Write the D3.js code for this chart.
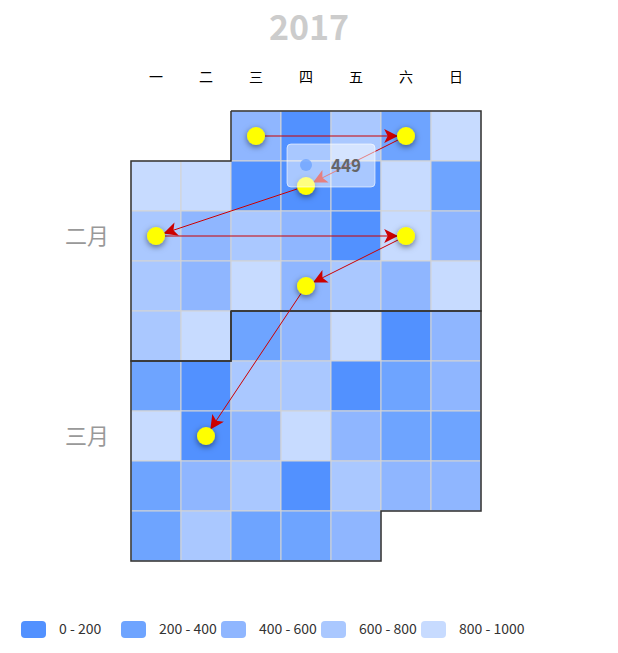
<!DOCTYPE html>
<html><head><meta charset="utf-8">
<script src="https://cdn.jsdelivr.net/npm/d3@7"></script>
<style>body{margin:0;background:#fff;font-family:"Microsoft YaHei","Noto Sans CJK SC",sans-serif}</style>
</head><body><svg id="c" width="618" height="653"></svg>
<script>
const title = "2017";
const dayNames = ["一","二","三","四","五","六","日"];
const monthNames = ["二月","三月"];
const startDate = "2017-02-01", endDate = "2017-03-31";
// one value per day, Feb 1 .. Mar 31
const values = [
 450,120,690,310,880,
 900,870,150,180,90,860,330,
 640,470,700,520,60,910,430,
 650,480,930,530,710,440,850,
 680,890,270,500,920,110,460,
 300,140,720,690,80,280,510,
 940,70,420,870,490,320,260,
 250,460,660,130,700,410,450,
 290,680,240,330,480
];
const pieceLabels = ["0 - 200","200 - 400","400 - 600","600 - 800","800 - 1000"];
const pieceColors = ["#5291ff","#6ea4ff","#8fb6ff","#aac8ff","#c7dbff"];
const pointDates = ["2017-02-01","2017-02-04","2017-02-09","2017-02-13","2017-02-18","2017-02-23","2017-03-14"];
const tooltipValue = 449;

const svg = d3.select("#c");
const parse = d3.timeParse("%Y-%m-%d");
const s = parse(startDate), e = parse(endDate);
const days = d3.timeDay.range(s, d3.timeDay.offset(e,1));
const dow = d => (d.getDay()+6)%7;
const week = d => d3.timeMonday.count(d3.timeMonday.floor(s), d);
const nWeeks = week(days[days.length-1])+1;
const x = d3.scaleBand().domain(d3.range(8)).range([131,531]);
const y = d3.scaleBand().domain(d3.range(nWeeks+1)).range([111,111+50*(nWeeks+1)]);
const color = d3.scaleThreshold().domain([200,400,600,800]).range(pieceColors);

svg.append("text").attr("x",309).attr("y",40).attr("text-anchor","middle")
 .attr("font-size",34).attr("font-weight","bold").attr("fill","#ccc").text(title);
svg.selectAll(".dn").data(dayNames).join("text").attr("x",(d,i)=>x(i)+25).attr("y",82)
 .attr("text-anchor","middle").attr("font-size",14).attr("fill","#000").text(d=>d);

svg.selectAll(".cell").data(days).join("rect")
 .attr("x",d=>x(dow(d))).attr("y",d=>y(week(d))).attr("width",50).attr("height",50)
 .attr("fill",(d,i)=>color(values[i])).attr("stroke","#d4d4d4").attr("stroke-width",1);

// month borders
const months = d3.timeMonth.range(s, d3.timeDay.offset(e,1));
months.forEach((m,mi)=>{
  const first = m, last = d3.timeDay.offset(d3.timeMonth.offset(m,1),-1);
  const fw=week(first), fd=dow(first), lw=week(last), ld=dow(last);
  const R=x(7);
  const pts=[[x(fd),y(fw)],[R,y(fw)],[R,y(lw)],[x(ld+1),y(lw)],[x(ld+1),y(lw+1)],[x(0),y(lw+1)],[x(0),y(fw+1)],[x(fd),y(fw+1)],[x(fd),y(fw)]];
  svg.append("path").attr("d",d3.line()(pts)).attr("fill","none").attr("stroke","#333").attr("stroke-width",1.5);
  svg.append("text").attr("x",87).attr("y",(y(fw)+y(lw+1))/2+8).attr("text-anchor","middle")
   .attr("font-size",22).attr("fill","#999").text(monthNames[mi]);
});

const defs = svg.append("defs");
defs.append("marker").attr("id","ar").attr("viewBox","0 0 12 12").attr("refX",11).attr("refY",6)
 .attr("markerWidth",14).attr("markerHeight",14).attr("markerUnits","userSpaceOnUse").attr("orient","auto")
 .append("path").attr("d","M0,0 L12,6 L0,12 L3,6 Z").attr("fill","#c00");
const f = defs.append("filter").attr("id","sh").attr("x","-1").attr("y","-1").attr("width","3").attr("height","3");
f.append("feDropShadow").attr("dx",0).attr("dy",2).attr("stdDeviation",3).attr("flood-color","#000").attr("flood-opacity",0.5);

const P = pointDates.map(parse).map(d=>[x(dow(d))+25, y(week(d))+25]);
for(let i=0;i<P.length-1;i++){
  const [a,b]=[P[i],P[i+1]]; const dx=b[0]-a[0], dy=b[1]-a[1], L=Math.hypot(dx,dy);
  svg.append("line").attr("x1",a[0]+dx/L*9).attr("y1",a[1]+dy/L*9).attr("x2",b[0]-dx/L*9).attr("y2",b[1]-dy/L*9)
   .attr("stroke","#c00").attr("stroke-width",1).attr("marker-end","url(#ar)");
}
svg.selectAll(".pt").data(P).join("circle").attr("cx",d=>d[0]).attr("cy",d=>d[1]).attr("r",9)
 .attr("fill","#ff0").attr("filter","url(#sh)");

// tooltip
const tg = svg.append("g");
tg.append("rect").attr("x",287).attr("y",144).attr("width",88).attr("height",43).attr("rx",4)
 .attr("fill","rgba(255,255,255,0.5)").attr("stroke","rgba(255,255,255,0.6)");
tg.append("circle").attr("cx",306).attr("cy",165).attr("r",6).attr("fill","#6ea4ff").attr("opacity",0.8);
tg.append("text").attr("x",331).attr("y",172).attr("font-size",17).attr("font-weight","bold").attr("fill","#666").text(tooltipValue);

// legend
pieceLabels.forEach((t,i)=>{
  svg.append("rect").attr("x",21+i*100).attr("y",621).attr("width",25).attr("height",17).attr("rx",4).attr("fill",pieceColors[i]);
  svg.append("text").attr("x",59+i*100).attr("y",634).attr("font-size",14).attr("fill","#333").text(t);
});
</script></body></html>
